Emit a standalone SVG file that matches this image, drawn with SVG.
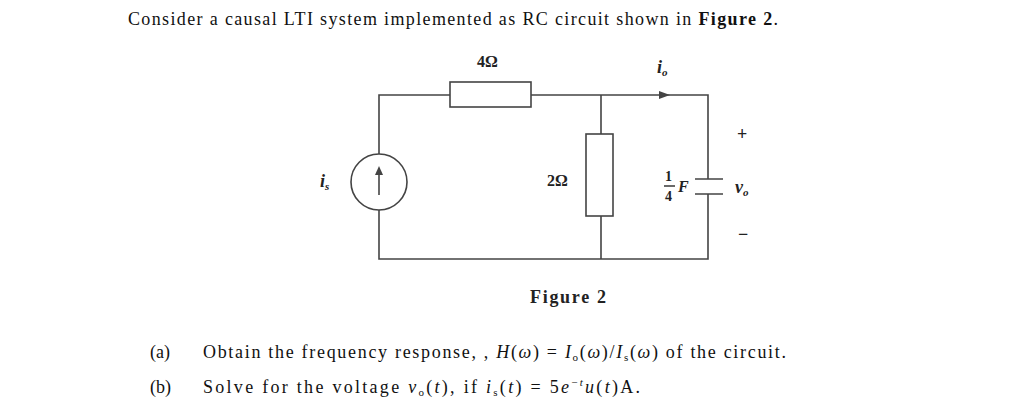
<svg xmlns="http://www.w3.org/2000/svg" width="1021" height="409" viewBox="0 0 1021 409">
<style>
.w{stroke:#444;stroke-width:1.6;fill:none}
.t{font-family:"Liberation Serif",serif;font-size:18px;fill:#111}
.m{font-family:"Liberation Serif",serif;font-style:italic;font-weight:bold;fill:#222}
.b{font-family:"Liberation Serif",serif;font-weight:bold;fill:#222}
</style>
<rect width="1021" height="409" fill="#fff"/>
<text class="t" x="128" y="25" textLength="650" lengthAdjust="spacing">Consider a causal LTI system implemented as RC circuit shown in <tspan font-weight="bold">Figure 2</tspan>.</text>
<g id="connectors">
<path class="w" d="M379 154V95H450M531 95H708V179M708 194V259H379V210M601 95V134M601 216V259"/>
<path d="M659 91L670 95L659 99Z" fill="#444"/>
</g>
<g id="R4"><rect class="w" x="450" y="82" width="81" height="25" fill="#fff"/><text class="b" x="477" y="67" font-size="16">4Ω</text></g>
<g id="R2"><rect class="w" x="586" y="134" width="27" height="82"/><text class="b" x="547" y="186" font-size="16">2Ω</text></g>
<g id="C"><path class="w" d="M695 179H723M695 194H723"/>
<text class="b" x="665" y="181" font-size="14">1</text><path class="w" d="M664 186H675" stroke-width="1.2"/><text class="b" x="665" y="201" font-size="14">4</text><text class="m" x="678" y="192" font-size="16">F</text>
<text class="b" x="737" y="140" font-size="18">+</text><text class="m" x="735" y="193" font-size="18">v<tspan font-size="11" dy="3">o</tspan></text><text class="b" x="738" y="240" font-size="18">−</text></g>
<g id="Is"><circle class="w" cx="379" cy="182" r="28"/><path class="w" d="M379 195V173"/><path d="M375 175L379 166L383 175Z" fill="#444"/><text class="m" x="320" y="187" font-size="18">i<tspan font-size="11" dy="3">s</tspan></text></g>
<text class="m" x="657" y="73" font-size="18">i<tspan font-size="11" dy="3">o</tspan></text>
<text class="b" x="530" y="303" font-size="18" textLength="76" lengthAdjust="spacing">Figure 2</text>
<text class="t" x="150" y="358">(a)</text>
<text class="t" x="203" y="358" textLength="583" lengthAdjust="spacing">Obtain the frequency response, , <tspan font-style="italic">H</tspan>(<tspan font-style="italic">ω</tspan>) = <tspan font-style="italic">I</tspan><tspan font-size="11" dy="3">o</tspan><tspan dy="-3">(</tspan><tspan font-style="italic">ω</tspan>)/<tspan font-style="italic">I</tspan><tspan font-size="11" dy="3">s</tspan><tspan dy="-3">(</tspan><tspan font-style="italic">ω</tspan>) of the circuit.</text>
<text class="t" x="150" y="393">(b)</text>
<text class="t" x="203" y="393" textLength="437" lengthAdjust="spacing">Solve for the voltage <tspan font-style="italic">v</tspan><tspan font-size="11" dy="3">o</tspan><tspan dy="-3">(</tspan><tspan font-style="italic">t</tspan>), if <tspan font-style="italic">i</tspan><tspan font-size="11" dy="3">s</tspan><tspan dy="-3">(</tspan><tspan font-style="italic">t</tspan>) = 5<tspan font-style="italic">e</tspan><tspan font-size="11" dy="-7">−<tspan font-style="italic">t</tspan></tspan><tspan font-style="italic" dy="7">u</tspan>(<tspan font-style="italic">t</tspan>)A.</text>
</svg>
